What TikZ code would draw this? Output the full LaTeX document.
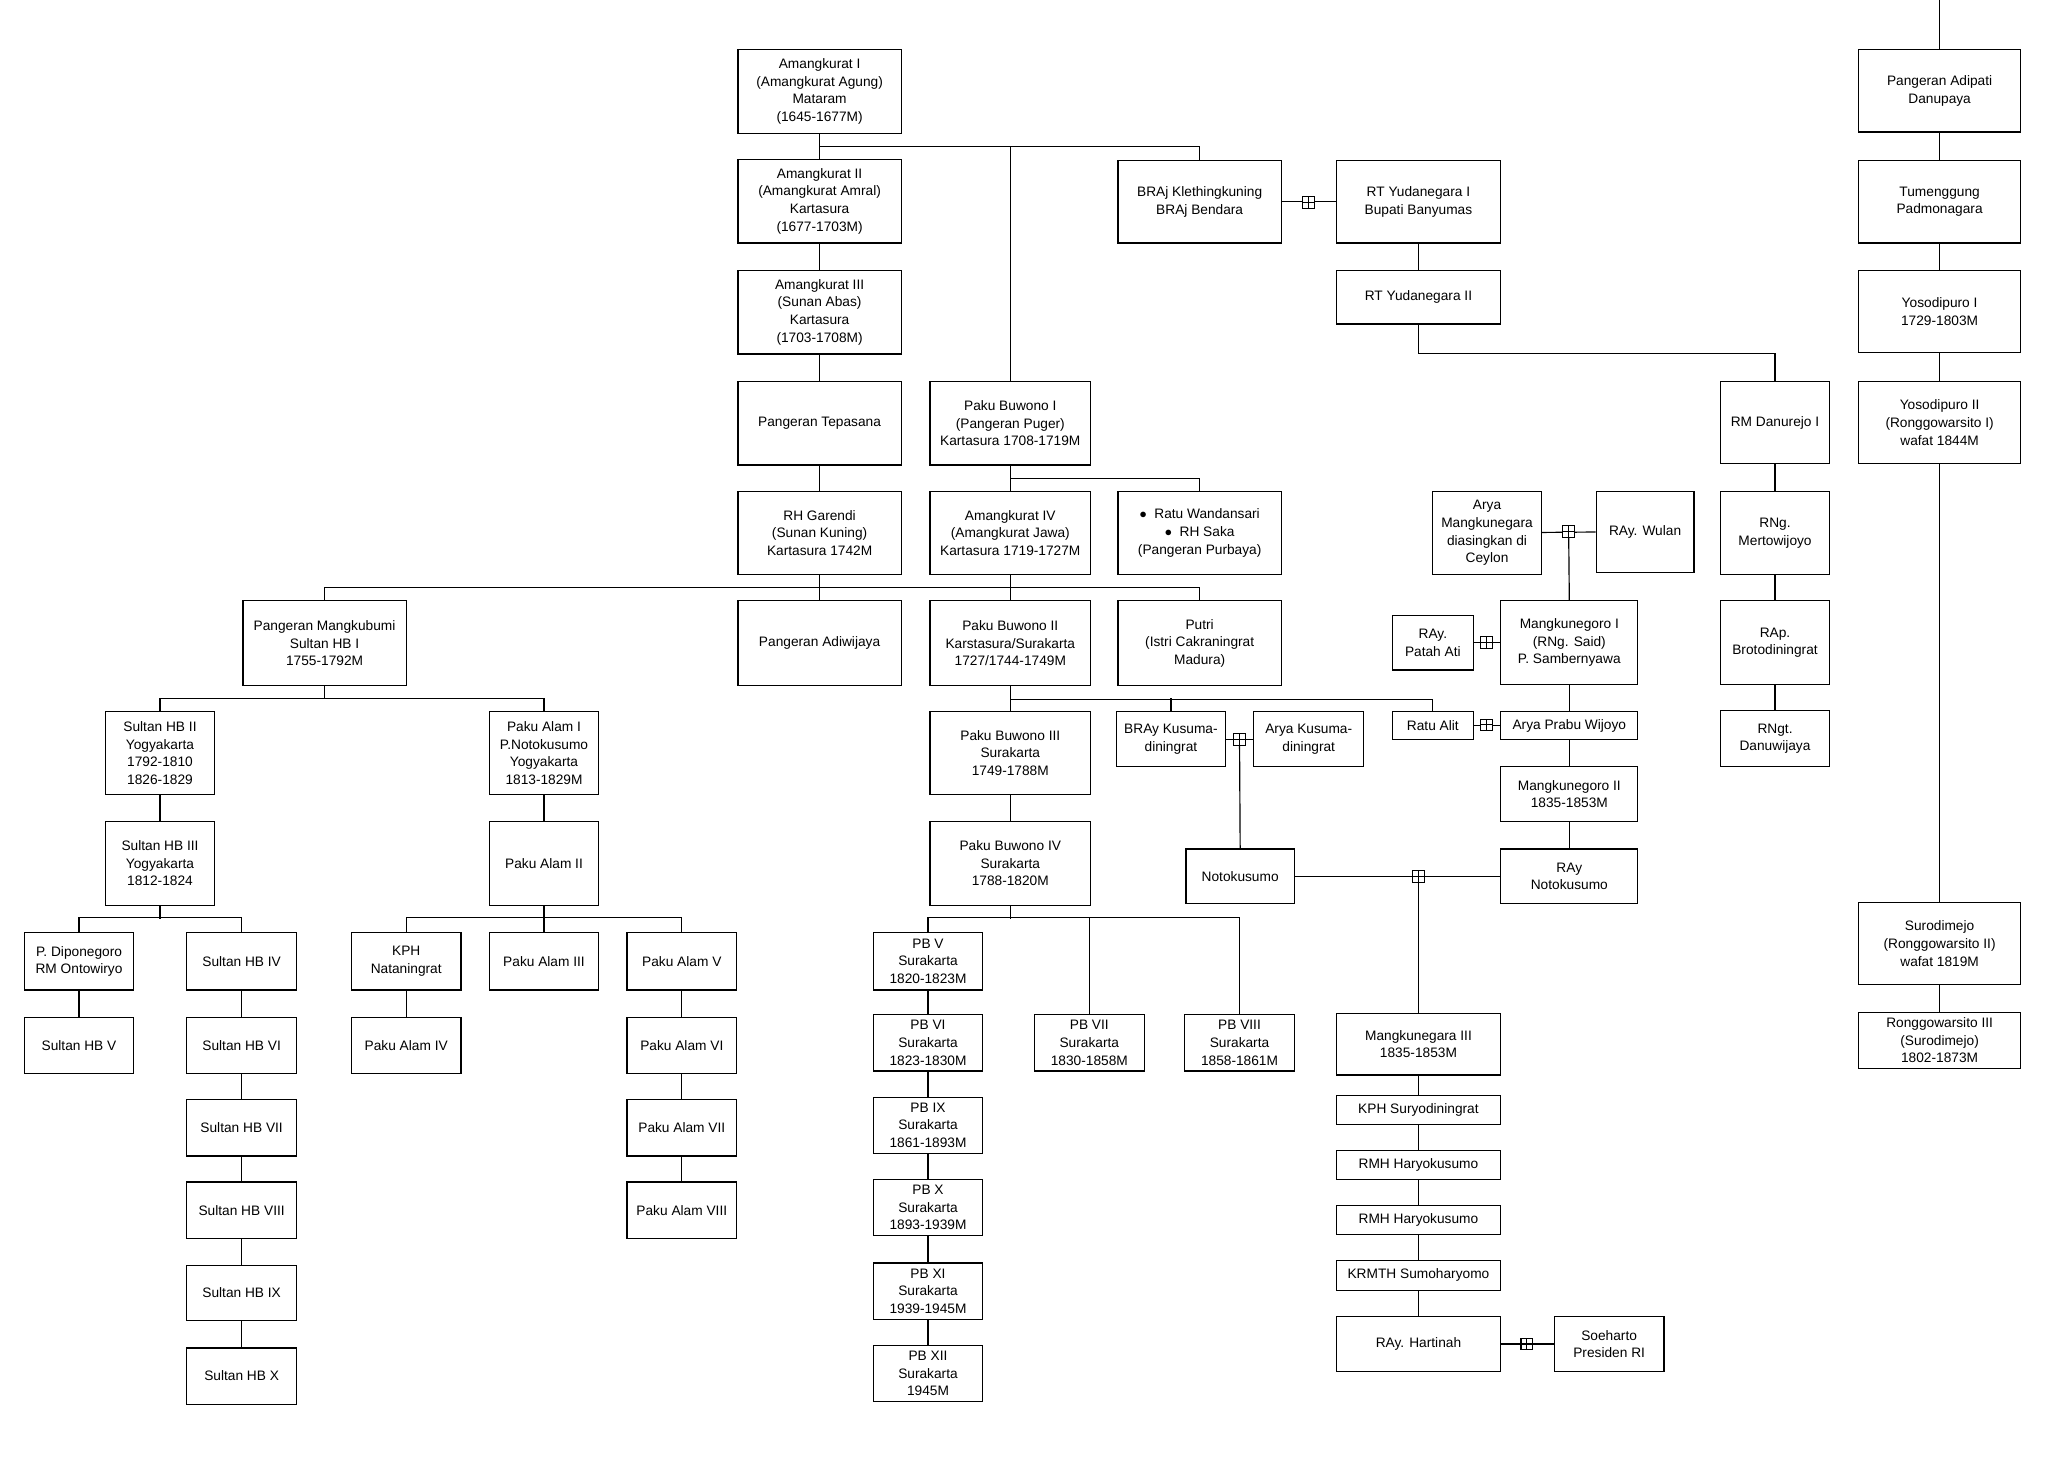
\documentclass[tikz,border=0pt]{standalone}
\usepackage{fontspec}
\setmainfont{Liberation Sans}
\begin{document}
\begin{tikzpicture}[x=1pt,y=-1pt,
  bx/.style={draw,line width=0.9pt,align=center,inner sep=1pt,font=\fontsize{10.5}{13.5}\selectfont},
  ln/.style={line width=0.9pt},
  mar/.style={draw,fill=white,line width=0.8pt,minimum size=9pt,inner sep=0pt,
    path picture={\draw (path picture bounding box.north) -- (path picture bounding box.south)
      (path picture bounding box.west) -- (path picture bounding box.east);}}]
\useasboundingbox (0,0) rectangle (1568,1132);
\newcommand\bx[6]{\node[bx,minimum width={(#4-#2)*1pt},minimum height={(#5-#3)*1pt}] (#1) at ({(#2+#4)/2},{(#3+#5)/2}) {#6};}
% column A
\bx{a1}{565}{38}{690}{102}{Amangkurat I\\(Amangkurat Agung)\\Mataram\\(1645-1677M)}
\bx{a2}{565}{122}{690}{186}{Amangkurat II\\(Amangkurat Amral)\\Kartasura\\(1677-1703M)}
\bx{a3}{565}{207}{690}{271}{Amangkurat III\\(Sunan Abas)\\Kartasura\\(1703-1708M)}
\bx{a4}{565}{292}{690}{356}{Pangeran Tepasana}
\bx{a5}{565}{376}{690}{440}{RH Garendi\\(Sunan Kuning)\\Kartasura 1742M}
\bx{a6}{565}{460}{690}{525}{Pangeran Adiwijaya}
% column B
\bx{pb1}{712}{292}{835}{356}{Paku Buwono I\\(Pangeran Puger)\\Kartasura 1708-1719M}
\bx{am4}{712}{376}{835}{440}{Amangkurat IV\\(Amangkurat Jawa)\\Kartasura 1719-1727M}
\bx{pb2}{712}{460}{835}{525}{Paku Buwono II\\Karstasura/Surakarta\\1727/1744-1749M}
\bx{pb3}{712}{545}{835}{608}{Paku Buwono III\\Surakarta\\1749-1788M}
\bx{pb4}{712}{629}{835}{693}{Paku Buwono IV\\Surakarta\\1788-1820M}
% column C
\bx{braj}{856}{123}{981}{186}{BRAj Klethingkuning\\BRAj Bendara}
\bx{ratu}{856}{376}{981}{440}{$\bullet$\ \ Ratu Wandansari\\$\bullet$\ \ RH Saka\\(Pangeran Purbaya)}
\bx{putri}{856}{460}{981}{525}{Putri\\(Istri Cakraningrat\\Madura)}
% column D
\bx{rty1}{1023}{123}{1149}{186}{RT Yudanegara I\\Bupati Banyumas}
\bx{rty2}{1023}{207}{1149}{248}{RT Yudanegara II}
% column E
\bx{danu}{1317}{292}{1401}{355}{RM Danurejo I}
\bx{mert}{1317}{376}{1401}{440}{RNg.\\Mertowijoyo}
\bx{brot}{1317}{460}{1401}{524}{RAp.\\Brotodiningrat}
\bx{danuw}{1317}{544}{1401}{587}{RNgt.\\Danuwijaya}
% far right
\bx{pad}{1423}{38}{1547}{101}{Pangeran Adipati\\Danupaya}
\bx{tum}{1423}{123}{1547}{186}{Tumenggung\\Padmonagara}
\bx{yos1}{1423}{207}{1547}{270}{Yosodipuro I\\1729-1803M}
\bx{yos2}{1423}{292}{1547}{355}{Yosodipuro II\\(Ronggowarsito I)\\wafat 1844M}
\bx{suro}{1423}{691}{1547}{754}{Surodimejo\\(Ronggowarsito II)\\wafat 1819M}
\bx{rong3}{1423}{775}{1547}{818}{Ronggowarsito III\\(Surodimejo)\\1802-1873M}
\coordinate (topR) at (1485,0);
% Mangkunegara
\bx{arya}{1097}{376}{1180}{440}{Arya\\Mangkunegara\\diasingkan di\\Ceylon}
\bx{wulan}{1222}{376}{1297}{438}{RAy. Wulan}
\bx{mk1}{1149}{460}{1254}{524}{Mangkunegoro I\\(RNg. Said)\\P. Sambernyawa}
\bx{patah}{1066}{471}{1128}{513}{RAy.\\Patah Ati}
\bx{ralit}{1066}{545}{1128}{566}{Ratu Alit}
\bx{apw}{1149}{545}{1254}{566}{Arya Prabu Wijoyo}
\bx{mk2}{1149}{587}{1254}{629}{Mangkunegoro II\\1835-1853M}
\bx{rayn}{1149}{650}{1254}{692}{RAy\\Notokusumo}
\bx{noto}{908}{650}{991}{692}{Notokusumo}
\bx{brayk}{855}{545}{938}{587}{BRAy Kusuma-\\diningrat}
\bx{aryak}{960}{545}{1044}{587}{Arya Kusuma-\\diningrat}
\bx{mk3}{1023}{776}{1149}{823}{Mangkunegara III\\1835-1853M}
\bx{kph}{1023}{839}{1149}{861}{KPH Suryodiningrat}
\bx{rmh1}{1023}{881}{1149}{903}{RMH Haryokusumo}
\bx{rmh2}{1023}{923}{1149}{945}{RMH Haryokusumo}
\bx{krm}{1023}{965}{1149}{988}{KRMTH Sumoharyomo}
\bx{hart}{1023}{1008}{1149}{1050}{RAy. Hartinah}
\bx{soeh}{1190}{1008}{1274}{1050}{Soeharto\\Presiden RI}
% Yogyakarta
\bx{hb1}{186}{460}{311}{525}{Pangeran Mangkubumi\\Sultan HB I\\1755-1792M}
\bx{hb2}{81}{545}{164}{608}{Sultan HB II\\Yogyakarta\\1792-1810\\1826-1829}
\bx{hb3}{81}{629}{164}{693}{Sultan HB III\\Yogyakarta\\1812-1824}
\bx{dip}{19}{714}{102}{758}{P. Diponegoro\\RM Ontowiryo}
\bx{hb5}{19}{779}{102}{822}{Sultan HB V}
\bx{hb4}{143}{714}{227}{758}{Sultan HB IV}
\bx{hb6}{143}{779}{227}{822}{Sultan HB VI}
\bx{hb7}{143}{842}{227}{885}{Sultan HB VII}
\bx{hb8}{143}{905}{227}{948}{Sultan HB VIII}
\bx{hb9}{143}{969}{227}{1011}{Sultan HB IX}
\bx{hb10}{143}{1032}{227}{1075}{Sultan HB X}
\bx{pa1}{375}{545}{458}{608}{Paku Alam I\\P.Notokusumo\\Yogyakarta\\1813-1829M}
\bx{pa2}{375}{629}{458}{693}{Paku Alam II}
\bx{kphn}{269}{714}{353}{758}{KPH\\Nataningrat}
\bx{pa3}{375}{714}{458}{758}{Paku Alam III}
\bx{pa5}{480}{714}{564}{758}{Paku Alam V}
\bx{pa4}{269}{779}{353}{822}{Paku Alam IV}
\bx{pa6}{480}{779}{564}{822}{Paku Alam VI}
\bx{pa7}{480}{842}{564}{885}{Paku Alam VII}
\bx{pa8}{480}{905}{564}{948}{Paku Alam VIII}
% PB
\bx{pb5}{669}{714}{752}{758}{PB V\\Surakarta\\1820-1823M}
\bx{pb6}{669}{777}{752}{820}{PB VI\\Surakarta\\1823-1830M}
\bx{pb9}{669}{840}{752}{883}{PB IX\\Surakarta\\1861-1893M}
\bx{pb10}{669}{903}{752}{946}{PB X\\Surakarta\\1893-1939M}
\bx{pb11}{669}{967}{752}{1010}{PB XI\\Surakarta\\1939-1945M}
\bx{pb12}{669}{1030}{752}{1073}{PB XII\\Surakarta\\1945M}
\bx{pb7}{792}{777}{876}{820}{PB VII\\Surakarta\\1830-1858M}
\bx{pb8}{907}{777}{991}{820}{PB VIII\\Surakarta\\1858-1861M}
% connectors
\begin{scope}[ln]
\draw (a1)--(a2) (a2)--(a3) (a3)--(a4) (a4)--(a5) (a5)--(a6);
\draw (a1.south) -- ++(0,10) -| (braj.north);
\draw (pb1.north) -- ++(0,-180);
\draw (pb1.south) -- ++(0,10) -| (ratu.north);
\draw (pb1)--(am4) (am4)--(pb2) (pb2)--(pb3) (pb3)--(pb4);
\draw (hb1.north) -- ++(0,-10) -| (putri.north);
\draw (rty1)--(rty2);
\draw (rty2.south) -- ++(0,22) -| (danu.north);
\draw (danu)--(mert) (mert)--(brot) (brot)--(danuw);
\draw (topR)--(pad) (pad)--(tum) (tum)--(yos1) (yos1)--(yos2) (yos2)--(suro) (suro)--(rong3);
\draw (braj)--(rty1);
\draw (arya)--(wulan);
\draw (patah)--(mk1);
\draw (ralit)--(apw);
\draw (brayk)--(aryak);
\draw (noto)--(rayn);
\draw (hart)--(soeh);
\draw (1201,407) -- (mk1.north);
\draw (mk1)--(apw) (apw)--(mk2) (mk2)--(rayn);
\draw (pb2.south) -- ++(0,10) -| (ralit.north);
\draw (brayk.north) -- ++(0,-10);
\draw (949,566) -- (noto.north);
\draw (1086,671) -- (mk3.north);
\draw (mk3)--(kph) (kph)--(rmh1) (rmh1)--(rmh2) (rmh2)--(krm) (krm)--(hart);
\draw (pb4.south) -- ++(0,10);
\draw (pb5.north) -- ++(0,-11) -| (pb8.north);
\draw (pb7.north) -- ++(0,-74);
\draw (pb5)--(pb6) (pb6)--(pb9) (pb9)--(pb10) (pb10)--(pb11) (pb11)--(pb12);
\draw (hb1.south) -- ++(0,10);
\draw (hb2.north) -- ++(0,-10) -| (pa1.north);
\draw (hb2)--(hb3);
\draw (hb3.south) -- ++(0,10);
\draw (dip.north) -- ++(0,-11) -| (hb4.north);
\draw (dip)--(hb5);
\draw (hb4)--(hb6) (hb6)--(hb7) (hb7)--(hb8) (hb8)--(hb9) (hb9)--(hb10);
\draw (pa1)--(pa2);
\draw (pa2.south) -- ++(0,10);
\draw (kphn.north) -- ++(0,-11) -| (pa5.north);
\draw (pa2)--(pa3);
\draw (kphn)--(pa4);
\draw (pa5)--(pa6) (pa6)--(pa7) (pa7)--(pa8);
\end{scope}
\node[mar] (m1) at (1002,155) {};
\node[mar] (m2) at (1201,407) {};
\node[mar] (m3) at (1138,492) {};
\node[mar] (m4) at (1138,555) {};
\node[mar] (m5) at (949,566) {};
\node[mar] (m6) at (1086,671) {};
\node[mar] (m7) at (1169,1029) {};
\end{tikzpicture}
\end{document}
